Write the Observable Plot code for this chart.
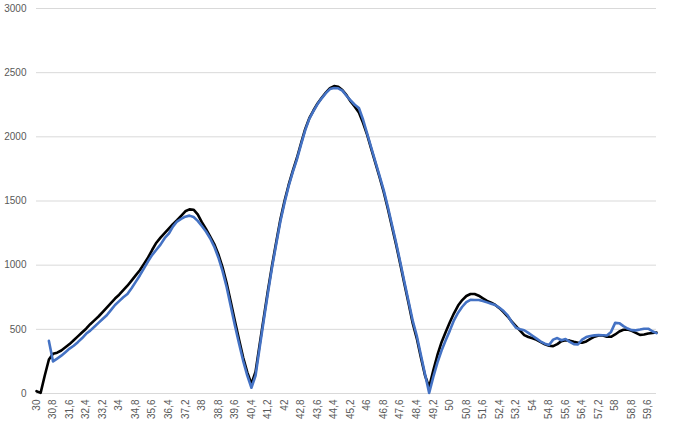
<!DOCTYPE html>
<html><head><meta charset="utf-8">
<script src="https://cdn.jsdelivr.net/npm/d3@7"></script>
<script src="https://cdn.jsdelivr.net/npm/@observablehq/plot@0.6"></script>
<style>body{margin:0;background:#fff}</style>
</head><body><div id="chart"></div>
<script>
const categories = [
  30,30.2,30.4,30.6,30.8,31,31.2,31.4,31.6,31.8,
  32,32.2,32.4,32.6,32.8,33,33.2,33.4,33.6,33.8,
  34,34.2,34.4,34.6,34.8,35,35.2,35.4,35.6,35.8,
  36,36.2,36.4,36.6,36.8,37,37.2,37.4,37.6,37.8,
  38,38.2,38.4,38.6,38.8,39,39.2,39.4,39.6,39.8,
  40,40.2,40.4,40.6,40.8,41,41.2,41.4,41.6,41.8,
  42,42.2,42.4,42.6,42.8,43,43.2,43.4,43.6,43.8,
  44,44.2,44.4,44.6,44.8,45,45.2,45.4,45.6,45.8,
  46,46.2,46.4,46.6,46.8,47,47.2,47.4,47.6,47.8,
  48,48.2,48.4,48.6,48.8,49,49.2,49.4,49.6,49.8,
  50,50.2,50.4,50.6,50.8,51,51.2,51.4,51.6,51.8,
  52,52.2,52.4,52.6,52.8,53,53.2,53.4,53.6,53.8,
  54,54.2,54.4,54.6,54.8,55,55.2,55.4,55.6,55.8,
  56,56.2,56.4,56.6,56.8,57,57.2,57.4,57.6,57.8,
  58,58.2,58.4,58.6,58.8,59,59.2,59.4,59.6,59.8,
  60
];
const seriesBlack = [
  18,5,140,265,310,318,335,360,385,415,
  445,475,505,540,570,600,635,670,705,740,
  770,805,840,880,920,960,1010,1060,1120,1175,
  1215,1250,1285,1320,1350,1385,1420,1435,1432,1395,
  1335,1282,1225,1165,1085,985,860,715,565,420,
  280,165,75,170,385,595,805,1000,1180,1355,
  1500,1625,1735,1835,1950,2060,2145,2205,2260,2305,
  2345,2380,2395,2390,2365,2325,2275,2235,2190,2110,
  2015,1905,1795,1685,1570,1440,1300,1160,1010,855,
  705,550,430,280,140,50,180,300,400,480,
  555,625,685,728,760,775,775,762,742,722,
  708,690,665,635,600,560,525,490,455,440,
  430,418,400,383,372,369,385,408,415,412,
  403,395,395,406,425,443,452,452,443,442,
  460,483,497,498,488,472,457,460,468,472,
  475
];
const seriesBlue = [
  null,null,null,410,250,272,295,322,350,372,
  400,430,465,490,520,550,580,610,650,690,
  720,750,775,820,870,920,975,1030,1080,1120,
  1160,1210,1245,1300,1340,1360,1378,1386,1375,1345,
  1305,1262,1210,1145,1060,955,830,680,530,390,
  255,140,45,140,360,575,785,985,1165,1340,
  1485,1615,1725,1825,1940,2050,2140,2200,2255,2300,
  2340,2372,2380,2378,2360,2320,2285,2250,2225,2135,
  2025,1915,1805,1695,1585,1455,1315,1175,1025,870,
  720,570,450,300,150,5,130,240,335,415,
  490,570,630,676,712,730,728,728,720,710,
  700,689,668,642,608,555,512,500,493,472,
  450,428,405,388,378,420,432,415,425,402,
  385,382,420,440,448,453,455,454,452,480,
  550,548,525,506,494,492,498,505,505,485,
  470
];
const xTicks = [30,30.8,31.6,32.4,33.2,34,34.8,35.6,36.4,37.2,38,38.8,39.6,40.4,41.2,42,42.8,43.6,44.4,45.2,46,46.8,47.6,48.4,49.2,50,50.8,51.6,52.4,53.2,54,54.8,55.6,56.4,57.2,58,58.8,59.6];
const yTicks = [0,500,1000,1500,2000,2500,3000];

const rows = categories.map((x, i) => ({x, black: seriesBlack[i], blue: seriesBlue[i]}));
const fmtX = d => String(d).replace(".", ",");
const fmtY = d => String(d);

const chart = Plot.plot({
  width: 675, height: 423,
  marginLeft: 36, marginRight: 19, marginTop: 8, marginBottom: 30,
  style: {fontFamily: "'Liberation Sans', Arial, sans-serif", fontSize: "10px", color: "#595959", background: "#fff"},
  x: {domain: [30, 60], label: null},
  y: {domain: [0, 3000], label: null},
  marks: [
    Plot.gridY(yTicks, {stroke: "#d9d9d9", strokeOpacity: 1, strokeWidth: 1}),
    Plot.axisY(yTicks, {tickSize: 0, tickPadding: 10, tickFormat: fmtY, label: null, fill: "#595959"}),
    Plot.axisX(xTicks, {tickSize: 0, tickPadding: 6, tickRotate: -90, tickFormat: fmtX, label: null, fill: "#595959"}),
    Plot.line(rows, {x: "x", y: "black", stroke: "#000000", strokeWidth: 2.6, strokeLinejoin: "round"}),
    Plot.line(rows.filter(d => d.blue != null), {x: "x", y: "blue", stroke: "#4472C4", strokeWidth: 2.6, strokeLinejoin: "round"})
  ]
});
document.getElementById("chart").appendChild(chart);
</script>
</body></html>
